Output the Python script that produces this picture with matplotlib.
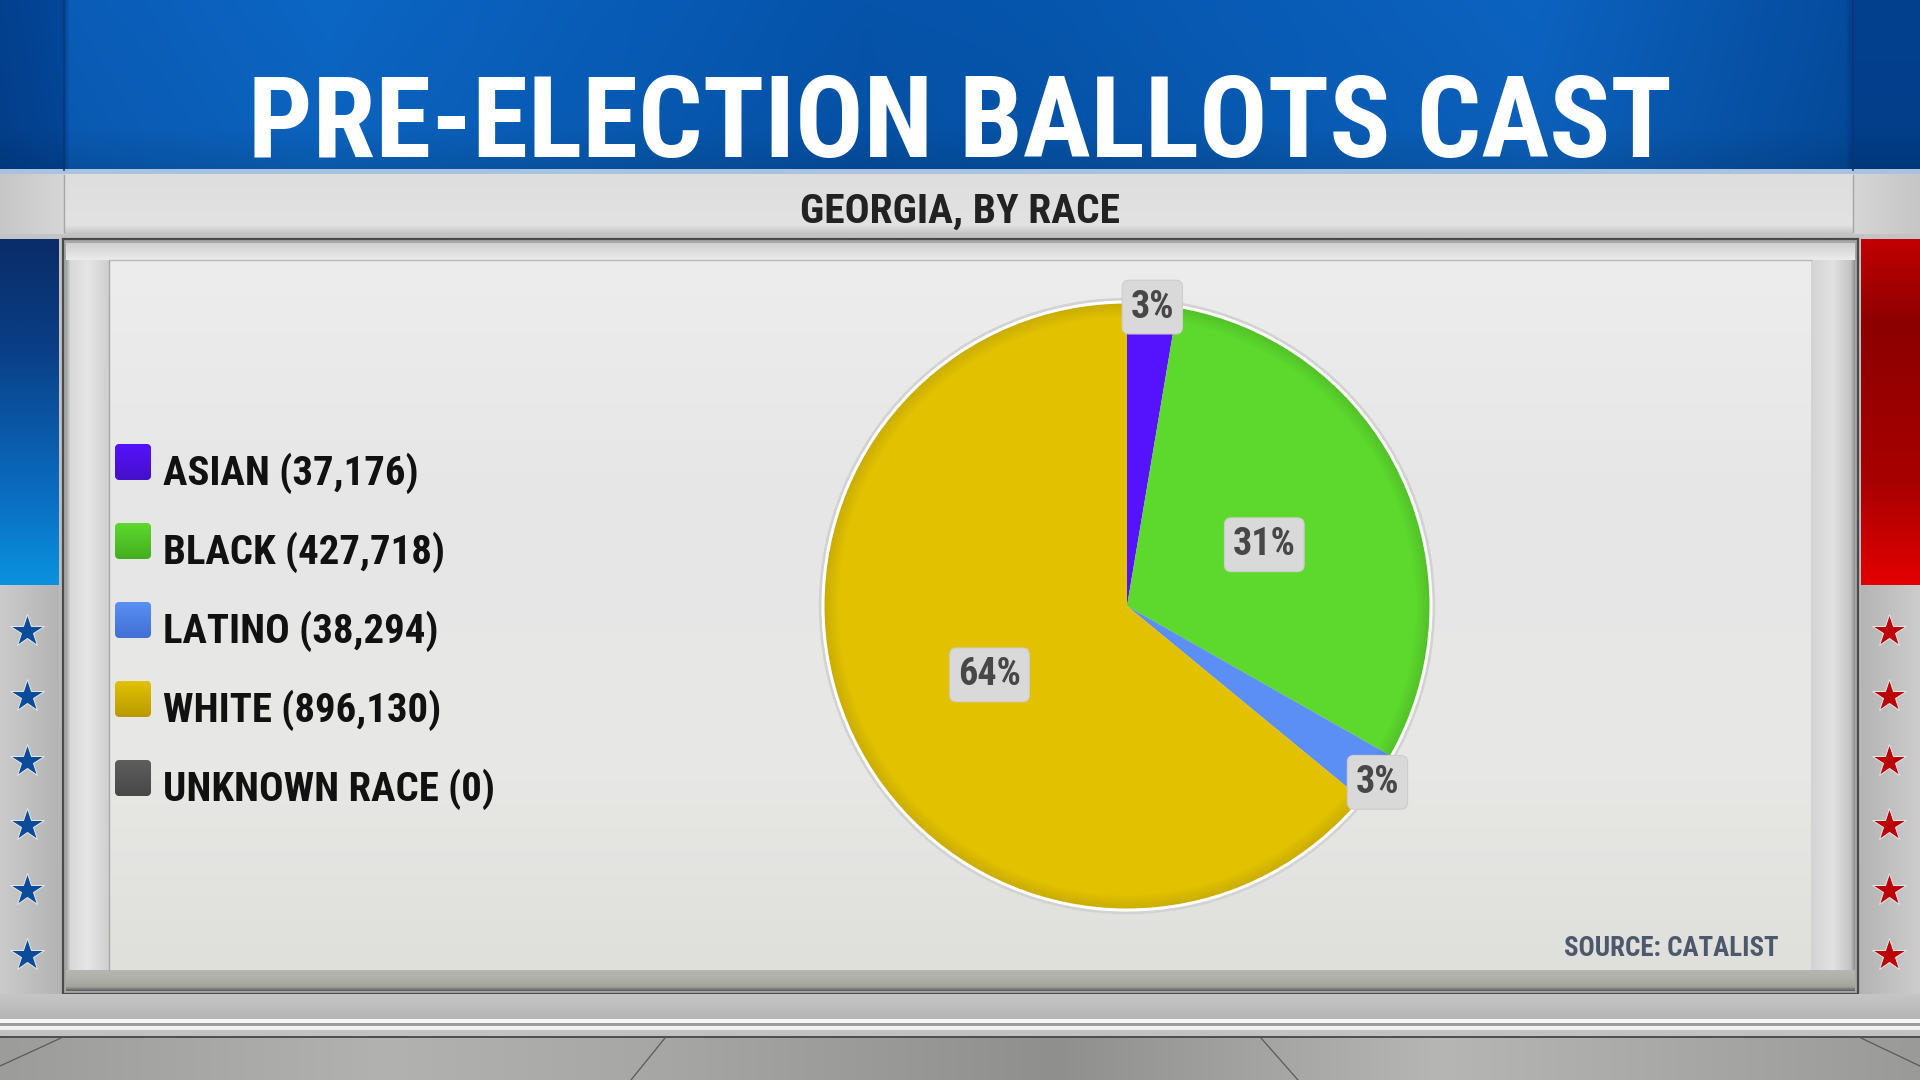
import matplotlib
matplotlib.use('Agg')
import matplotlib.pyplot as plt
import numpy as np
from matplotlib import font_manager as fm
from matplotlib.colors import to_rgb
from matplotlib.patches import Rectangle, FancyBboxPatch, Circle, Wedge

# ---- data ----
title = 'PRE-ELECTION BALLOTS CAST'
subtitle = 'GEORGIA, BY RACE'
source = 'SOURCE: CATALIST'

races = ['ASIAN', 'BLACK', 'LATINO', 'WHITE', 'UNKNOWN RACE']
ballots = [37176, 427718, 38294, 896130, 0]
race_colors = ['#5512fc', '#5dd92e', '#5b8ff5', '#e2c200', '#5e5e5e']
race_colors_dark = ['#4410c8', '#43ad1e', '#4170d2', '#b89a00', '#474747']

W, H = 1920, 1080
PIE_CX, PIE_CY, PIE_R = 1127, 606, 304
PIE_PAD = 1.03


def pick_font():
    names = {f.name for f in fm.fontManager.ttflist}
    for fam in ['Roboto Condensed', 'Open Sans Condensed', 'Liberation Sans Narrow']:
        if fam in names:
            return dict(family=fam)
    cond = [f for f in fm.fontManager.ttflist
            if f.name == 'DejaVu Sans' and 'condensed' in str(f.stretch)]
    if cond:
        return dict(family='DejaVu Sans', stretch='condensed')
    return dict(family='DejaVu Sans')


FONT = pick_font()


def ramp(stops, cols, n=400):
    s = np.linspace(0, 1, n)
    rgb = np.array([to_rgb(c) for c in cols])
    return np.stack([np.interp(s, stops, rgb[:, i]) for i in range(3)], -1)


def paint(ax, box, arr, z=0, clip=None):
    x0, y0, x1, y1 = box
    im = ax.imshow(arr, extent=(x0, x1, y1, y0), origin='upper', aspect='auto',
                   interpolation='bilinear', zorder=z)
    if clip is not None:
        im.set_clip_path(clip)
    return im


def vgrad(ax, box, stops, cols, z=0, clip=None):
    return paint(ax, box, ramp(stops, cols)[:, None, :], z, clip)


def hgrad(ax, box, stops, cols, z=0, clip=None):
    return paint(ax, box, ramp(stops, cols)[None, :, :], z, clip)


def rect(ax, box, color, z=1, **kw):
    x0, y0, x1, y1 = box
    ax.add_patch(Rectangle((x0, y0), x1 - x0, y1 - y0, fc=color, ec='none', zorder=z, **kw))


fig = plt.figure(figsize=(W / 100, H / 100), dpi=100)
bg = fig.add_axes([0, 0, 1, 1])
bg.set_xlim(0, W)
bg.set_ylim(H, 0)
bg.set_autoscale_on(False)
bg.axis('off')

# header
hcol = ramp([0, 0.033, 0.034, 0.17, 0.45, 0.55, 0.8, 0.964, 0.965, 1],
            ['#03408e', '#04479a', '#0a5cb6', '#0c66c4', '#0553aa', '#0656ad',
             '#0c63c0', '#054c9e', '#03408e', '#03408e'])
vf = np.interp(np.linspace(0, 1, 60), [0, 0.75, 1], [1.0, 0.97, 0.86])
paint(bg, (0, 0, W, 171), hcol[None, :, :] * vf[:, None, None])
rect(bg, (0, 169, W, 174), '#a8c2e0', z=2)

# subtitle band
vgrad(bg, (0, 174, W, 234), [0, 0.85, 1], ['#dedede', '#e2e2e2', '#c4c4c4'])
hgrad(bg, (0, 174, 64, 234), [0, 1], ['#c6c6c6', '#d6d6d6'], z=1)
hgrad(bg, (1853, 174, W, 234), [0, 1], ['#d6d6d6', '#c6c6c6'], z=1)
for x in (64, 1853):
    bg.plot([x, x], [0, 170], color='#053777', lw=1.2, zorder=3)
    bg.plot([x, x], [175, 232], color='#a5a5a5', lw=1.0, zorder=3)

# silver wall
vgrad(bg, (0, 234, W, 1000), [0, 1], ['#c4c4c4', '#b3b3b3'])

# coloured side strips
vgrad(bg, (0, 239, 59, 585), [0, 0.3, 0.75, 1],
      ['#0a2c68', '#0a3d84', '#0b6ec2', '#0a92de'], z=1)
vgrad(bg, (1861, 239, W, 585), [0, 0.25, 0.7, 1],
      ['#c20000', '#8c0000', '#a80000', '#e40000'], z=1)
hgrad(bg, (0, 585, 59, 1000), [0, 1], ['#cbcbcb', '#b4b4b4'], z=1)
hgrad(bg, (1861, 585, W, 1000), [0, 1], ['#b4b4b4', '#cdcdcd'], z=1)

# stars on the side panels
star_y = np.linspace(631, 955, 6)
bg.plot(np.full(6, 27), star_y, ls='none', marker='*', ms=25,
        mfc='#0b4c9a', mec='#e8e8e8', mew=0.7, zorder=3)
bg.plot(np.full(6, 1889), star_y, ls='none', marker='*', ms=25,
        mfc='#bb0008', mec='#e8e8e8', mew=0.7, zorder=3)

# frame
bg.add_patch(Rectangle((63, 239), 1795, 755, fc='#a7a7a7', ec='#4a4a4a', lw=1.6, zorder=2))
hgrad(bg, (66, 243, 109, 972), [0, 0.1, 0.5, 1], ['#9c9c9c', '#d8d8d8', '#e6e6e6', '#cfcfcf'], z=3)
hgrad(bg, (1811, 243, 1855, 972), [0, 0.5, 0.9, 1], ['#d3d3d3', '#e2e2e2', '#c3c3c3', '#8f8f8f'], z=3)
vgrad(bg, (66, 243, 1855, 260), [0, 1], ['#cfcfcf', '#ececec'], z=3)
vgrad(bg, (66, 970, 1855, 991), [0, 0.4, 0.8, 1], ['#b7b7b1', '#b0b0aa', '#a2a29c', '#5a5a5a'], z=3)
vgrad(bg, (109, 260, 1811, 970), [0, 0.35, 0.7, 1],
      ['#ededed', '#e6e6e6', '#e8e8e6', '#dfdfdc'], z=4)
bg.plot([109, 109], [260, 970], color='#a8a8a8', lw=1, zorder=5)
bg.plot([109, 1811], [260, 260], color='#b9b9b9', lw=1, zorder=5)

# floor and rails
vgrad(bg, (0, 994, W, 1020), [0, 1], ['#c6c6c6', '#b4b4b4'], z=2)
rect(bg, (0, 1019, W, 1023), '#f6f6f6', z=3)
rect(bg, (0, 1023, W, 1026), '#9d9d9d', z=3)
rect(bg, (0, 1026, W, 1030), '#f2f2f2', z=3)
rect(bg, (0, 1030, W, 1036), '#c1c1c1', z=3)
rect(bg, (0, 1036, W, 1038), '#505050', z=3)
hgrad(bg, (0, 1038, W, H), [0, 0.2, 0.35, 0.55, 0.75, 1],
      ['#9c9c9a', '#b2b2b0', '#a6a6a4', '#8f8f8d', '#b6b6b4', '#9a9a98'], z=3)
for xa, xb, yb in [(61, 0, 1066), (665, 631, 1080), (1261, 1298, 1080), (1861, 1920, 1066)]:
    bg.plot([xa, xb], [1038, yb], color='#5a5a5a', lw=0.9, zorder=4)

# ---- pie ----
half = PIE_R * PIE_PAD
pax = fig.add_axes([(PIE_CX - half) / W, 1 - (PIE_CY + half) / H, 2 * half / W, 2 * half / H])
pax.axis('off')
wedges, _ = pax.pie(ballots, colors=race_colors, startangle=90, counterclock=False,
                    radius=1, wedgeprops=dict(linewidth=0))
pax.set_xlim(-PIE_PAD, PIE_PAD)
pax.set_ylim(-PIE_PAD, PIE_PAD)
for i in range(10):
    r = 1 - 0.005 * i
    pax.add_patch(Wedge((0, 0), r, 0, 360, width=0.005, fc='black',
                        alpha=0.018 * (10 - i) / 1.6, ec='none', zorder=3))
pax.add_patch(Circle((0, 0), 1.008, fill=False, ec='#d2d2d2', lw=2.5, zorder=4))
pax.add_patch(Circle((0, 0), 1.0, fill=False, ec='white', lw=2.2, zorder=5))

total = sum(ballots)
pct_texts = []
for w, v in zip(wedges, ballots):
    if v == 0:
        continue
    share = v / total
    ang = np.deg2rad((w.theta1 + w.theta2) / 2)
    rr = 1.0 if share < 0.05 else 0.5
    t = pax.text(rr * np.cos(ang), rr * np.sin(ang), f'{share * 100:.0f}%',
                 ha='center', va='center_baseline', color='#474747', weight='bold',
                 zorder=10, clip_on=False, **FONT,
                 bbox=dict(boxstyle='round,pad=0.22,rounding_size=0.18',
                           fc='#d9d9d9', ec='#cdcdcd', lw=0.8))
    pct_texts.append(t)

# ---- legend ----
leg_texts = []
for i, (name, v) in enumerate(zip(races, ballots)):
    base = 485 + 79 * i
    sq = FancyBboxPatch((115, base - 41), 36, 36,
                        boxstyle='round,pad=0,rounding_size=5',
                        fc=race_colors[i], ec='none', zorder=6)
    bg.add_patch(sq)
    vgrad(bg, (115, base - 41, 151, base - 5), [0, 1],
          [race_colors[i], race_colors_dark[i]], z=7, clip=sq)
    t = bg.text(163, base, f'{name} ({v:,})', ha='left', va='baseline',
                color='#111111', weight='bold', zorder=8, **FONT)
    leg_texts.append(t)

# ---- titles ----
t_title = bg.text(960, 157, title, ha='center', va='baseline', color='white',
                  weight='bold', zorder=8, **FONT)
t_sub = bg.text(960, 223, subtitle, ha='center', va='baseline', color='#222222',
                weight='bold', zorder=8, **FONT)
t_src = bg.text(1779, 956, source, ha='right', va='baseline', color='#4d586b',
                weight='bold', zorder=8, **FONT)

# size text to the reference widths (cap height as upper bound)
renderer = fig.canvas.get_renderer()


def fit(texts, ref, width_px, cap_px):
    ref.set_fontsize(50)
    w = ref.get_window_extent(renderer).width
    size = min(50 * width_px / w, cap_px / (100 / 72 * 0.72))
    for t in texts:
        t.set_fontsize(size)


fit([t_title], t_title, 1425, 108)
fit([t_sub], t_sub, 320, 39)
fit([t_src], t_src, 215, 29)
fit(leg_texts, leg_texts[1], 282, 34)
fit(pct_texts, pct_texts[1], 63, 33)

fig.savefig('out.png', dpi=100)
